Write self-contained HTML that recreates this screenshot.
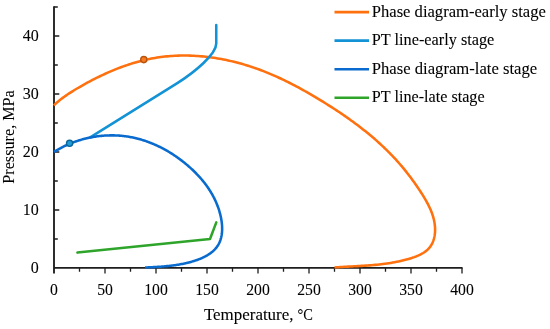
<!DOCTYPE html>
<html><head><meta charset="utf-8"><title>Phase diagram</title>
<style>html,body{margin:0;padding:0;background:#fff;overflow:hidden;}svg{display:block;}</style>
</head><body>
<svg width="550" height="329" viewBox="0 0 550 329">
<rect width="550" height="329" fill="#fff"/>
<path d="M54,6.3 V273.6 M53.1,267.9 H462.6" stroke="#1e1e1e" stroke-width="1.85" fill="none"/>
<path d="M79.50,268 V271.8 M105.00,268 V273.6 M130.50,268 V271.8 M156.00,268 V273.6 M181.50,268 V271.8 M207.00,268 V273.6 M232.50,268 V271.8 M258.00,268 V273.6 M283.50,268 V271.8 M309.00,268 V273.6 M334.50,268 V271.8 M360.00,268 V273.6 M385.50,268 V271.8 M411.00,268 V273.6 M436.50,268 V271.8 M462.00,268 V273.6 M54,239.00 H57.8 M54,210.00 H59.3 M54,181.00 H57.8 M54,152.00 H59.3 M54,123.00 H57.8 M54,94.00 H59.3 M54,65.00 H57.8 M54,36.00 H59.3 M54,7.00 H57.8" stroke="#1e1e1e" stroke-width="1.3" fill="none"/>
<path d="M53.79,105.39 L55.21,104.06 L56.67,102.76 L58.14,101.50 L59.65,100.26 L61.18,99.06 L62.73,97.88 L64.31,96.73 L65.90,95.60 L67.51,94.50 L69.14,93.42 L70.78,92.35 L72.44,91.31 L74.11,90.28 L75.79,89.27 L77.48,88.26 L79.18,87.28 L80.88,86.30 L82.59,85.33 L84.31,84.37 L86.03,83.42 L87.75,82.48 L89.48,81.56 L91.22,80.64 L92.96,79.73 L94.71,78.84 L96.46,77.96 L98.22,77.09 L99.98,76.23 L101.75,75.39 L103.52,74.56 L105.30,73.74 L107.09,72.94 L108.87,72.15 L110.67,71.37 L112.47,70.61 L114.27,69.87 L116.08,69.14 L117.89,68.42 L119.71,67.73 L121.53,67.04 L123.36,66.38 L125.20,65.73 L127.03,65.10 L128.88,64.49 L130.73,63.89 L132.58,63.31 L134.44,62.75 L136.30,62.21 L138.17,61.69 L140.04,61.19 L141.92,60.71 L143.80,60.25 L145.68,59.80 L147.58,59.38 L149.47,58.98 L151.37,58.60 L153.28,58.25 L155.19,57.91 L157.10,57.60 L159.02,57.31 L160.94,57.04 L162.87,56.79 L164.80,56.57 L166.74,56.37 L168.68,56.19 L170.62,56.04 L172.56,55.90 L174.51,55.79 L176.46,55.70 L178.42,55.63 L180.37,55.58 L182.33,55.55 L184.29,55.54 L186.25,55.55 L188.21,55.59 L190.17,55.64 L192.13,55.71 L194.09,55.81 L196.06,55.92 L198.02,56.05 L199.98,56.21 L201.94,56.38 L203.90,56.57 L205.86,56.78 L207.82,57.00 L209.77,57.25 L211.73,57.51 L213.68,57.80 L215.63,58.10 L217.57,58.42 L219.52,58.75 L221.46,59.10 L223.39,59.47 L225.33,59.86 L227.26,60.27 L229.18,60.69 L231.10,61.13 L233.02,61.58 L234.93,62.05 L236.83,62.54 L238.73,63.04 L240.63,63.56 L242.51,64.09 L244.40,64.64 L246.27,65.20 L248.14,65.78 L250.00,66.37 L251.86,66.98 L253.70,67.60 L255.54,68.24 L257.38,68.89 L259.20,69.56 L261.02,70.23 L262.84,70.93 L264.64,71.63 L266.44,72.35 L268.24,73.08 L270.03,73.82 L271.81,74.58 L273.59,75.35 L275.36,76.12 L277.13,76.92 L278.89,77.72 L280.64,78.53 L282.39,79.36 L284.14,80.19 L285.88,81.04 L287.62,81.90 L289.35,82.76 L291.08,83.64 L292.80,84.53 L294.52,85.42 L296.24,86.33 L297.95,87.24 L299.66,88.17 L301.37,89.10 L303.07,90.04 L304.77,90.99 L306.46,91.95 L308.15,92.91 L309.84,93.89 L311.53,94.87 L313.21,95.86 L314.90,96.85 L316.57,97.85 L318.25,98.86 L319.93,99.88 L321.60,100.90 L323.27,101.92 L324.94,102.96 L326.61,104.00 L328.27,105.05 L329.93,106.10 L331.59,107.16 L333.24,108.23 L334.89,109.30 L336.54,110.38 L338.18,111.47 L339.81,112.56 L341.44,113.67 L343.07,114.77 L344.69,115.89 L346.31,117.02 L347.92,118.15 L349.53,119.29 L351.12,120.43 L352.72,121.59 L354.30,122.75 L355.88,123.92 L357.45,125.10 L359.02,126.28 L360.57,127.48 L362.12,128.68 L363.66,129.89 L365.20,131.11 L366.72,132.33 L368.24,133.57 L369.74,134.81 L371.24,136.06 L372.73,137.32 L374.21,138.59 L375.68,139.87 L377.14,141.16 L378.58,142.46 L380.02,143.76 L381.45,145.08 L382.86,146.40 L384.27,147.73 L385.66,149.07 L387.04,150.43 L388.41,151.79 L389.77,153.16 L391.11,154.54 L392.45,155.93 L393.77,157.33 L395.08,158.74 L396.37,160.16 L397.66,161.59 L398.93,163.03 L400.19,164.48 L401.45,165.95 L402.69,167.42 L403.92,168.91 L405.14,170.41 L406.35,171.92 L407.54,173.44 L408.73,174.98 L409.91,176.52 L411.08,178.08 L412.24,179.66 L413.39,181.24 L414.54,182.84 L415.67,184.45 L416.79,186.08 L417.91,187.72 L419.02,189.37 L420.12,191.04 L421.21,192.72 L422.29,194.42 L423.35,196.13 L424.40,197.85 L425.43,199.59 L426.42,201.35 L427.39,203.11 L428.31,204.90 L429.20,206.70 L430.04,208.51 L430.84,210.34 L431.57,212.18 L432.26,214.04 L432.87,215.92 L433.43,217.81 L433.91,219.71 L434.31,221.63 L434.63,223.57 L434.87,225.52 L435.03,227.48 L435.09,229.43 L435.06,231.38 L434.93,233.30 L434.70,235.20 L434.37,237.06 L433.93,238.88 L433.38,240.64 L432.71,242.34 L431.93,243.98 L431.03,245.53 L430.01,247.00 L428.86,248.38 L427.59,249.66 L426.20,250.86 L424.72,251.97 L423.15,253.00 L421.49,253.96 L419.76,254.85 L417.97,255.68 L416.12,256.44 L414.23,257.16 L412.30,257.82 L410.35,258.43 L408.39,259.01 L406.42,259.55 L404.45,260.06 L402.48,260.55 L400.52,261.00 L398.56,261.43 L396.61,261.83 L394.66,262.21 L392.72,262.56 L390.78,262.90 L388.84,263.21 L386.90,263.50 L384.96,263.77 L383.03,264.02 L381.10,264.25 L379.17,264.47 L377.24,264.68 L375.31,264.87 L373.38,265.04 L371.46,265.21 L369.53,265.36 L367.60,265.51 L365.67,265.64 L363.74,265.77 L361.81,265.89 L359.88,266.00 L357.94,266.11 L356.01,266.22 L354.07,266.32 L352.13,266.43 L350.19,266.53 L348.24,266.63 L346.29,266.73 L344.34,266.84 L342.38,266.95 L340.42,267.07 L338.45,267.19 L336.48,267.32 L334.50,267.45" stroke="#FF700E" stroke-width="2.55" fill="none" stroke-linejoin="round" stroke-linecap="butt"/>
<path d="M90.2,137.4 L176.92,83.35 C195.5,71.6 216.25,54.0 216.25,43.5 V25.0" stroke="#1392D5" stroke-width="2.55" fill="none" stroke-linejoin="round" stroke-linecap="round"/>
<path d="M54.00,152.00 L54.86,151.44 L55.74,150.90 L56.61,150.36 L57.50,149.83 L58.39,149.32 L59.29,148.81 L60.20,148.31 L61.11,147.81 L62.03,147.33 L62.96,146.86 L63.89,146.39 L64.83,145.94 L65.78,145.49 L66.73,145.05 L67.69,144.62 L68.65,144.21 L69.62,143.80 L70.59,143.40 L71.57,143.00 L72.55,142.62 L73.54,142.25 L74.53,141.89 L75.53,141.53 L76.53,141.19 L77.54,140.86 L78.55,140.53 L79.56,140.22 L80.58,139.91 L81.60,139.61 L82.62,139.33 L83.65,139.05 L84.68,138.78 L85.71,138.53 L86.75,138.28 L87.79,138.04 L88.83,137.81 L89.87,137.60 L90.92,137.39 L91.97,137.19 L93.02,137.00 L94.07,136.82 L95.13,136.66 L96.18,136.50 L97.24,136.35 L98.30,136.21 L99.35,136.09 L100.41,135.97 L101.47,135.86 L102.54,135.77 L103.60,135.68 L104.66,135.60 L105.72,135.54 L106.78,135.48 L107.84,135.44 L108.91,135.40 L109.97,135.38 L111.03,135.37 L112.09,135.36 L113.15,135.37 L114.20,135.39 L115.26,135.42 L116.31,135.46 L117.37,135.51 L118.42,135.57 L119.47,135.64 L120.52,135.73 L121.56,135.82 L122.61,135.92 L123.65,136.04 L124.69,136.17 L125.73,136.30 L126.76,136.45 L127.79,136.61 L128.82,136.77 L129.85,136.95 L130.88,137.14 L131.90,137.34 L132.92,137.55 L133.94,137.76 L134.95,137.99 L135.97,138.23 L136.98,138.48 L137.99,138.74 L138.99,139.00 L139.99,139.28 L140.99,139.57 L141.99,139.86 L142.98,140.17 L143.97,140.48 L144.96,140.81 L145.95,141.14 L146.93,141.49 L147.91,141.84 L148.89,142.20 L149.86,142.57 L150.83,142.95 L151.80,143.33 L152.76,143.73 L153.72,144.13 L154.68,144.55 L155.63,144.97 L156.58,145.40 L157.53,145.84 L158.47,146.29 L159.41,146.74 L160.35,147.21 L161.28,147.68 L162.21,148.16 L163.14,148.65 L164.06,149.14 L164.98,149.65 L165.90,150.16 L166.81,150.68 L167.71,151.20 L168.62,151.74 L169.52,152.28 L170.41,152.83 L171.31,153.39 L172.19,153.95 L173.08,154.52 L173.96,155.10 L174.84,155.69 L175.71,156.28 L176.58,156.88 L177.44,157.49 L178.30,158.10 L179.16,158.73 L180.01,159.35 L180.85,159.99 L181.70,160.63 L182.53,161.28 L183.37,161.93 L184.20,162.59 L185.02,163.26 L185.84,163.93 L186.66,164.61 L187.47,165.30 L188.27,165.99 L189.08,166.69 L189.87,167.39 L190.66,168.10 L191.45,168.82 L192.22,169.54 L193.00,170.27 L193.76,171.01 L194.52,171.75 L195.28,172.50 L196.02,173.26 L196.76,174.02 L197.50,174.79 L198.22,175.56 L198.94,176.34 L199.65,177.13 L200.36,177.92 L201.05,178.72 L201.74,179.53 L202.42,180.34 L203.09,181.16 L203.76,181.98 L204.41,182.81 L205.06,183.65 L205.69,184.50 L206.32,185.35 L206.94,186.20 L207.55,187.07 L208.15,187.94 L208.74,188.81 L209.32,189.70 L209.89,190.58 L210.45,191.48 L210.99,192.38 L211.53,193.29 L212.06,194.20 L212.58,195.13 L213.08,196.05 L213.58,196.99 L214.06,197.93 L214.53,198.87 L214.99,199.83 L215.44,200.79 L215.87,201.75 L216.30,202.72 L216.71,203.70 L217.11,204.69 L217.49,205.68 L217.87,206.68 L218.23,207.68 L218.57,208.69 L218.91,209.71 L219.23,210.74 L219.53,211.77 L219.82,212.80 L220.10,213.85 L220.36,214.90 L220.61,215.95 L220.84,217.01 L221.06,218.07 L221.25,219.13 L221.43,220.19 L221.59,221.26 L221.73,222.32 L221.85,223.38 L221.95,224.45 L222.03,225.50 L222.09,226.56 L222.13,227.61 L222.14,228.66 L222.13,229.70 L222.09,230.74 L222.03,231.77 L221.94,232.79 L221.83,233.80 L221.69,234.80 L221.52,235.79 L221.32,236.77 L221.10,237.74 L220.85,238.70 L220.56,239.64 L220.25,240.57 L219.90,241.49 L219.52,242.39 L219.11,243.27 L218.67,244.14 L218.19,244.98 L217.68,245.81 L217.13,246.62 L216.55,247.41 L215.93,248.18 L215.28,248.93 L214.59,249.66 L213.87,250.36 L213.12,251.05 L212.35,251.72 L211.55,252.37 L210.72,253.00 L209.86,253.61 L208.99,254.20 L208.09,254.77 L207.17,255.33 L206.23,255.87 L205.28,256.39 L204.30,256.89 L203.32,257.37 L202.32,257.84 L201.31,258.29 L200.29,258.73 L199.26,259.14 L198.22,259.55 L197.18,259.93 L196.13,260.30 L195.08,260.66 L194.02,261.00 L192.97,261.32 L191.91,261.63 L190.85,261.93 L189.79,262.22 L188.74,262.49 L187.68,262.75 L186.62,263.00 L185.57,263.24 L184.52,263.47 L183.47,263.69 L182.42,263.90 L181.38,264.10 L180.34,264.29 L179.30,264.48 L178.26,264.66 L177.23,264.82 L176.20,264.98 L175.16,265.14 L174.13,265.28 L173.10,265.42 L172.07,265.56 L171.05,265.68 L170.02,265.80 L168.99,265.92 L167.96,266.02 L166.94,266.13 L165.91,266.22 L164.88,266.32 L163.85,266.41 L162.82,266.49 L161.79,266.57 L160.76,266.65 L159.73,266.72 L158.69,266.79 L157.65,266.85 L156.61,266.92 L155.57,266.98 L154.53,267.04 L153.48,267.09 L152.43,267.15 L151.38,267.20 L150.33,267.25 L149.27,267.30 L148.21,267.35 L147.14,267.40 L146.07,267.45 L145.00,267.50" stroke="#0A6BCE" stroke-width="2.55" fill="none" stroke-linejoin="round" stroke-linecap="butt"/>
<path d="M77.4,252.6 L210,239 L216.3,222.4" stroke="#2EA52A" stroke-width="2.55" fill="none" stroke-linejoin="round" stroke-linecap="round"/>
<circle cx="143.8" cy="59.6" r="3.1" fill="#F57B25" stroke="#B9530D" stroke-width="1.4"/>
<circle cx="69.6" cy="143.3" r="3.1" fill="#1F9DD9" stroke="#0A6699" stroke-width="1.4"/>
<path d="M334.5,12.1 H369" stroke="#FF700E" stroke-width="2.55"/>
<text x="371.8" y="16.60" font-family="Liberation Serif, serif" stroke="#000" stroke-width="0.08" font-size="16.3" fill="#000" textLength="174" lengthAdjust="spacingAndGlyphs">Phase diagram-early stage</text>
<path d="M334.5,40.6 H369" stroke="#1392D5" stroke-width="2.55"/>
<text x="371.8" y="45.10" font-family="Liberation Serif, serif" stroke="#000" stroke-width="0.08" font-size="16.3" fill="#000" textLength="122.5" lengthAdjust="spacingAndGlyphs">PT line-early stage</text>
<path d="M334.5,69.2 H369" stroke="#0A6BCE" stroke-width="2.55"/>
<text x="371.8" y="73.70" font-family="Liberation Serif, serif" stroke="#000" stroke-width="0.08" font-size="16.3" fill="#000" textLength="165.3" lengthAdjust="spacingAndGlyphs">Phase diagram-late stage</text>
<path d="M334.5,97.8 H369" stroke="#2EA52A" stroke-width="2.55"/>
<text x="371.8" y="102.30" font-family="Liberation Serif, serif" stroke="#000" stroke-width="0.08" font-size="16.3" fill="#000" textLength="112.8" lengthAdjust="spacingAndGlyphs">PT line-late stage</text>
<text x="54.00" y="294.8" font-family="Liberation Serif, serif" stroke="#000" stroke-width="0.08" font-size="15.7" fill="#000" text-anchor="middle">0</text>
<text x="105.00" y="294.8" font-family="Liberation Serif, serif" stroke="#000" stroke-width="0.08" font-size="15.7" fill="#000" text-anchor="middle">50</text>
<text x="156.00" y="294.8" font-family="Liberation Serif, serif" stroke="#000" stroke-width="0.08" font-size="15.7" fill="#000" text-anchor="middle">100</text>
<text x="207.00" y="294.8" font-family="Liberation Serif, serif" stroke="#000" stroke-width="0.08" font-size="15.7" fill="#000" text-anchor="middle">150</text>
<text x="258.00" y="294.8" font-family="Liberation Serif, serif" stroke="#000" stroke-width="0.08" font-size="15.7" fill="#000" text-anchor="middle">200</text>
<text x="309.00" y="294.8" font-family="Liberation Serif, serif" stroke="#000" stroke-width="0.08" font-size="15.7" fill="#000" text-anchor="middle">250</text>
<text x="360.00" y="294.8" font-family="Liberation Serif, serif" stroke="#000" stroke-width="0.08" font-size="15.7" fill="#000" text-anchor="middle">300</text>
<text x="411.00" y="294.8" font-family="Liberation Serif, serif" stroke="#000" stroke-width="0.08" font-size="15.7" fill="#000" text-anchor="middle">350</text>
<text x="462.00" y="294.8" font-family="Liberation Serif, serif" stroke="#000" stroke-width="0.08" font-size="15.7" fill="#000" text-anchor="middle">400</text>
<text x="38.8" y="272.90" font-family="Liberation Serif, serif" stroke="#000" stroke-width="0.08" font-size="16" fill="#000" text-anchor="end">0</text>
<text x="38.8" y="214.90" font-family="Liberation Serif, serif" stroke="#000" stroke-width="0.08" font-size="16" fill="#000" text-anchor="end">10</text>
<text x="38.8" y="156.90" font-family="Liberation Serif, serif" stroke="#000" stroke-width="0.08" font-size="16" fill="#000" text-anchor="end">20</text>
<text x="38.8" y="98.90" font-family="Liberation Serif, serif" stroke="#000" stroke-width="0.08" font-size="16" fill="#000" text-anchor="end">30</text>
<text x="38.8" y="40.90" font-family="Liberation Serif, serif" stroke="#000" stroke-width="0.08" font-size="16" fill="#000" text-anchor="end">40</text>
<text y="320" font-family="Liberation Serif, serif" stroke="#000" stroke-width="0.08" font-size="16.3" fill="#000"><tspan x="203.9" textLength="89.6" lengthAdjust="spacingAndGlyphs">Temperature,</tspan> <tspan x="297.6" textLength="15.4" lengthAdjust="spacingAndGlyphs">°C</tspan></text>
<text transform="translate(14.0,183.7) rotate(-90)" x="0" y="0" font-family="Liberation Serif, serif" stroke="#000" stroke-width="0.08" font-size="16.3" fill="#000" textLength="93.5" lengthAdjust="spacingAndGlyphs">Pressure, MPa</text>
</svg>
</body></html>
